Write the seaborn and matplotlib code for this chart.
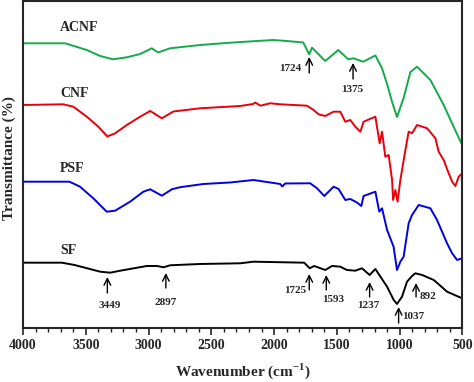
import matplotlib
matplotlib.use("Agg")
import matplotlib.pyplot as plt
from matplotlib.ticker import MultipleLocator
import seaborn as sns
import pandas as pd

# spectra (wavenumber in cm-1, offset transmittance in a.u.)
acnf_wn = [4000, 3665, 3492, 3386, 3282, 3173, 3067, 2974, 2924, 2828, 2589, 2350, 2007,
           1900, 1768, 1720, 1698, 1592, 1489, 1409, 1369, 1289, 1193, 1140, 1100, 1060,
           1021, 968, 914, 861, 755, 649, 569, 502]
acnf_t = [284.7, 284.7, 278, 272, 268.7, 270.7, 274, 279.7, 275.5, 279.7, 283, 285.3, 288,
          287, 285.5, 273.7, 280.3, 267, 278, 268.7, 269.7, 266.3, 272.5, 259.7, 244, 226,
          211, 230, 256, 261.3, 248, 223, 201, 183]

cnf_wn = [4000, 3679, 3599, 3492, 3400, 3328, 3266, 3173, 3067, 2987, 2894, 2802, 2589,
          2270, 2166, 2150, 2110, 2031, 1951, 1738, 1685, 1646, 1592, 1526, 1473, 1433,
          1393, 1353, 1313, 1287, 1193, 1159, 1140, 1114, 1087, 1060, 1052, 1034, 1016,
          994, 954, 928, 901, 861, 781, 715, 689, 649, 609, 580, 556, 529, 500]
cnf_t = [223, 223.7, 221.3, 211.3, 201.3, 191.5, 194.7, 203, 211.3, 217, 209.7, 216.5, 219.7,
         222, 224, 225.5, 222.3, 224.7, 223.7, 222.3, 218, 213.7, 212, 216.3, 216.3, 206.3,
         208, 201.3, 196.3, 206.3, 211.3, 184.7, 196.3, 171.3, 173, 148, 128, 138, 126.3,
         148, 178, 196.3, 194.7, 203, 199.7, 189.7, 176.3, 168, 154.7, 146, 142, 151.3, 154.7]

psf_wn = [4000, 3630, 3546, 3440, 3333, 3266, 3147, 3041, 2987, 2894, 2814, 2748, 2562,
          2350, 2164, 1951, 1935, 1911, 1712, 1658, 1600, 1526, 1486, 1433, 1393, 1340,
          1305, 1287, 1193, 1162, 1140, 1100, 1048, 1021, 994, 968, 928, 901, 848, 755,
          702, 622, 582, 542, 502]
psf_t = [146.3, 146.3, 141.3, 129.7, 116.3, 117.3, 126.3, 136.3, 138.7, 132.3, 138.7, 140.8, 144,
         145.5, 148, 144, 141.5, 144.5, 144.7, 139.7, 132, 141.3, 139, 128, 129, 125.5,
         122, 132, 136.3, 116.3, 119.7, 98, 81.3, 58, 66.3, 71.3, 104.7, 113, 123, 119.7,
         108, 84.7, 74.7, 68, 69.7]

sf_wn = [4000, 3690, 3590, 3385, 3305, 3225, 3013, 2933, 2880, 2828, 2589, 2270, 2164,
         1760, 1716, 1681, 1592, 1539, 1473, 1420, 1353, 1300, 1239, 1193, 1153, 1100,
         1047, 1021, 981, 941, 901, 875, 821, 728, 622, 502]
sf_t = [65.3, 65.3, 63, 56.3, 55.3, 57.3, 62, 62, 60.7, 62.7, 64, 64.7, 66.3,
        65.3, 59.7, 62, 58, 62, 61.3, 58, 57.3, 59.7, 53, 59, 51.3, 41.3,
        28, 24, 31.3, 46.3, 52, 54.7, 53, 48, 36.3, 29.7]

samples = ["ACNF", "CNF", "PSF", "SF"]
colors = ["#14aa4c", "#e8000b", "#0000e0", "black"]

# peak labels: (text, wavenumber of arrow, arrow head, arrow tail, label x, label y, ha)
peaks = [
    ("1724", 1720, 271, 255, 1784, 259.7, "right"),
    ("1375", 1371, 265, 249, 1377, 238.7, "center"),
    ("3449", 3328, 51, 35, 3306, 22, "center"),
    ("2897", 2862, 55, 40, 2862, 25.3, "center"),
    ("1725", 1720, 54, 38, 1744, 37, "right"),
    ("1593", 1584, 53, 38, 1526, 28, "center"),
    ("1237", 1239, 46, 31, 1247, 22, "center"),
    ("1037", 1008, 21, 5, 981, 11.3, "left"),
    ("892", 869, 45, 31, 840, 31.3, "left"),
]
name_pos = [300, 234, 159, 77]

sns.set_style("ticks")
plt.rcParams["font.family"] = ["Liberation Serif", "DejaVu Serif"]
plt.rcParams["font.weight"] = "bold"
plt.rcParams["mathtext.fontset"] = "custom"
plt.rcParams["mathtext.bf"] = "Liberation Serif:bold"
plt.rcParams["mathtext.rm"] = "Liberation Serif:bold"

frames = []
for name, wn, t in zip(samples, [acnf_wn, cnf_wn, psf_wn, sf_wn], [acnf_t, cnf_t, psf_t, sf_t]):
    frames.append(pd.DataFrame({"wn": wn, "t": t, "sample": name}))
df = pd.concat(frames, ignore_index=True)

fig = plt.figure(figsize=(4.74, 3.82), dpi=100)
ax = fig.add_axes([0.0485, 0.1414, 0.927, 0.856])

sns.lineplot(data=df, x="wn", y="t", hue="sample", palette=colors, hue_order=samples,
             sort=False, estimator=None, lw=1.4, legend=False, ax=ax)

for name, yy in zip(samples, name_pos):
    ax.text(3705, yy, name, fontsize=10, fontweight="bold", ha="left", va="center")

for txt, w, head, tail, lx, ly, ha in peaks:
    ax.annotate("", xy=(w, head), xytext=(w, tail),
                arrowprops=dict(arrowstyle="->", lw=1, color="black", mutation_scale=12,
                                shrinkA=0, shrinkB=0))
    ax.text(lx, ly, txt, fontsize=8, fontweight="bold", ha=ha, va="center")

ax.set_xlim(4000, 500)
ax.set_ylim(0, 327)
ax.xaxis.set_major_locator(MultipleLocator(500))
ax.xaxis.set_minor_locator(MultipleLocator(100))
ax.tick_params(axis="x", which="major", length=5, width=1.2, labelsize=10, pad=3)
ax.tick_params(axis="x", which="minor", length=3, width=1.0)
ax.set_yticks([])
for lab in ax.get_xticklabels():
    lab.set_fontweight("bold")
for sp in ax.spines.values():
    sp.set_linewidth(1.5)
    sp.set_visible(True)

ax.set_xlabel("Wavenumber (cm$^{\\mathbf{-1}}$)", fontsize=11, fontweight="bold", labelpad=7)
ax.set_ylabel("Transmittance (%)", fontsize=11, fontweight="bold")
ax.yaxis.set_label_coords(-0.017, 0.52)

fig.savefig("out.png", dpi=100)
